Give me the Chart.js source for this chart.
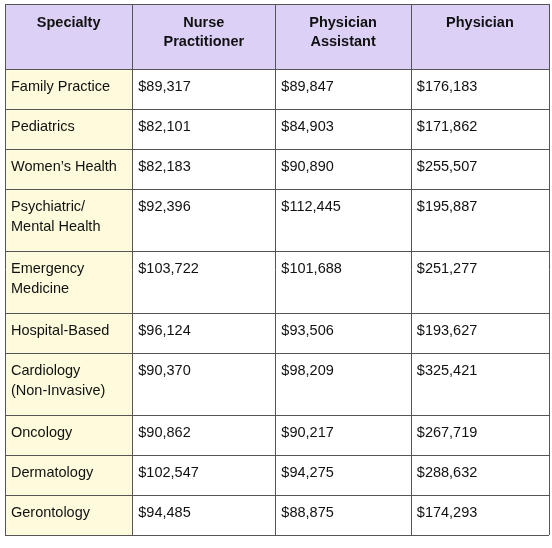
<!DOCTYPE html>
<html>
<head>
<meta charset="utf-8">
<script src="https://cdn.jsdelivr.net/npm/chart.js@4"></script>
<style>
  body { margin: 0; background: #fff; }
  #wrap { position: relative; width: 552px; height: 548px; }
</style>
</head>
<body>
<div id="wrap"><canvas id="tableChart"></canvas></div>
<script>
// Table data
const headers = [['Specialty'], ['Nurse', 'Practitioner'], ['Physician', 'Assistant'], ['Physician']];
const specialties = [
    ['Family Practice'], ['Pediatrics'], ["Women\u2019s Health"], ['Psychiatric/', 'Mental Health'],
    ['Emergency', 'Medicine'], ['Hospital-Based'], ['Cardiology', '(Non-Invasive)'],
    ['Oncology'], ['Dermatology'], ['Gerontology']
];
const nurseSalaries = [89317, 82101, 82183, 92396, 103722, 96124, 90370, 90862, 102547, 94485];
const assistantSalaries = [89847, 84903, 90890, 112445, 101688, 93506, 98209, 90217, 94275, 88875];
const physicianSalaries = [176183, 171862, 255507, 195887, 251277, 193627, 325421, 267719, 288632, 174293];

const colFractions = [0.234, 0.263, 0.249, 0.254];

function money(v) { return '$' + v.toLocaleString('en-US'); }

const tablePlugin = {
    id: 'tablePlugin',
    afterDraw(chart) {
        const ctx = chart.ctx;
        const area = chart.chartArea;
        const w = area.right - area.left;
        const xs = [area.left];
        colFractions.forEach(f => xs.push(xs[xs.length - 1] + f * w));
        xs[xs.length - 1] = area.right;

        // row heights from number of text lines
        const headH = 65, oneH = 40, twoH = 62;
        const ys = [area.top, area.top + headH];
        specialties.forEach(s => ys.push(ys[ys.length - 1] + (s.length > 1 ? twoH : oneH)));

        ctx.save();
        // backgrounds
        ctx.fillStyle = '#dcd0f7';
        ctx.fillRect(xs[0], ys[0], xs[4] - xs[0], ys[1] - ys[0]);
        ctx.fillStyle = '#fdfbdc';
        ctx.fillRect(xs[0], ys[1], xs[1] - xs[0], ys[ys.length - 1] - ys[1]);

        // grid lines
        ctx.strokeStyle = '#555';
        ctx.lineWidth = 1;
        ys.forEach(y => {
            ctx.beginPath(); ctx.moveTo(xs[0], Math.round(y) + 0.5); ctx.lineTo(xs[4], Math.round(y) + 0.5); ctx.stroke();
        });
        xs.forEach(x => {
            ctx.beginPath(); ctx.moveTo(Math.round(x) + 0.5, ys[0]); ctx.lineTo(Math.round(x) + 0.5, ys[ys.length - 1]); ctx.stroke();
        });

        // header text
        ctx.fillStyle = '#111';
        ctx.textBaseline = 'top';
        ctx.textAlign = 'center';
        ctx.font = 'bold 14.5px "Liberation Sans", Arial, sans-serif';
        headers.forEach((lines, c) => {
            const cx = (xs[c] + xs[c + 1]) / 2;
            lines.forEach((t, i) => ctx.fillText(t, cx, ys[0] + 12 + i * 19));
        });

        // body text
        ctx.textAlign = 'left';
        ctx.font = '14.5px "Liberation Sans", Arial, sans-serif';
        specialties.forEach((lines, r) => {
            const top = ys[r + 1] + 11;
            lines.forEach((t, i) => ctx.fillText(t, xs[0] + 6, top + i * 20));
            ctx.fillText(money(nurseSalaries[r]), xs[1] + 6, top);
            ctx.fillText(money(assistantSalaries[r]), xs[2] + 6, top);
            ctx.fillText(money(physicianSalaries[r]), xs[3] + 6, top);
        });
        ctx.restore();
    }
};

new Chart(document.getElementById('tableChart').getContext('2d'), {
    type: 'bar',
    data: { labels: [], datasets: [] },
    options: {
        responsive: true,
        maintainAspectRatio: false,
        animation: false,
        layout: { padding: { left: 5, right: 3, top: 4, bottom: 9 } },
        plugins: { legend: { display: false }, tooltip: { enabled: false } },
        scales: { x: { display: false }, y: { display: false } }
    },
    plugins: [tablePlugin]
});
</script>
</body>
</html>
